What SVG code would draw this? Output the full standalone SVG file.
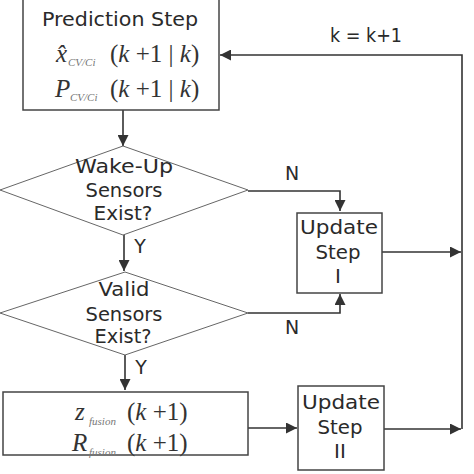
<svg xmlns="http://www.w3.org/2000/svg" width="474" height="474" viewBox="0 0 474 474">
<defs>
<marker id="ah" viewBox="0 0 10 10" refX="10" refY="5" markerWidth="11" markerHeight="11" markerUnits="userSpaceOnUse" orient="auto">
<path d="M0,0 L10,5 L0,10 Z" fill="#333"/>
</marker>
<style>
.box{fill:#fff;stroke:#444;stroke-width:1.5}
.dia{fill:#fff;stroke:#666;stroke-width:1}
.ln{fill:none;stroke:#333;stroke-width:1.6}
.t{font-family:"DejaVu Sans",sans-serif;fill:#2a2a2a;text-anchor:middle}
.m{font-family:"Liberation Serif",serif;fill:#333}
.mi{font-style:italic}
.sub{font-family:"Liberation Serif",serif;font-style:italic;fill:#777;font-size:11px}
</style>
</defs>
<rect width="474" height="474" fill="#fff"/>
<g id="connectors">
<line class="ln" x1="123" y1="110" x2="123" y2="146" marker-end="url(#ah)"/>
<line class="ln" x1="124" y1="235" x2="124" y2="271" marker-end="url(#ah)"/>
<line class="ln" x1="125" y1="355" x2="125" y2="390" marker-end="url(#ah)"/>
<polyline class="ln" points="248,191 340,191 340,211" marker-end="url(#ah)"/>
<polyline class="ln" points="248,313 340,313 340,294" marker-end="url(#ah)"/>
<line class="ln" x1="248" y1="428" x2="297" y2="428" marker-end="url(#ah)"/>
<line class="ln" x1="382" y1="252" x2="461" y2="252" marker-end="url(#ah)"/>
<line class="ln" x1="384" y1="429" x2="461" y2="429" marker-end="url(#ah)"/>
<polyline class="ln" points="462,429 462,55 220,55" marker-end="url(#ah)"/>
<text class="t" x="366" y="42" font-size="19" textLength="72" lengthAdjust="spacingAndGlyphs">k = k+1</text>
<text class="t" x="292" y="180" font-size="19">N</text>
<text class="t" x="292" y="334" font-size="19">N</text>
<text class="t" x="140" y="253" font-size="19">Y</text>
<text class="t" x="141" y="374" font-size="19">Y</text>
</g>
<g id="prediction">
<rect class="box" x="23" y="-2" width="196" height="112"/>
<text class="t" x="120" y="26" font-size="19" textLength="156" lengthAdjust="spacingAndGlyphs">Prediction Step</text>
<text class="m" y="62" font-size="25"><tspan class="mi" x="56">x̂</tspan><tspan class="sub" dy="4" x="68">CV/Ci</tspan><tspan dy="-4" x="110">(</tspan><tspan class="mi">k</tspan><tspan> +1 | </tspan><tspan class="mi">k</tspan><tspan>)</tspan></text>
<text class="m" y="97" font-size="25"><tspan class="mi" x="55">P</tspan><tspan class="sub" dy="4" x="70">CV/Ci</tspan><tspan dy="-4" x="110">(</tspan><tspan class="mi">k</tspan><tspan> +1 | </tspan><tspan class="mi">k</tspan><tspan>)</tspan></text>
</g>
<g id="wakeup">
<polygon class="dia" points="123,146 248,190 123,235 0,190"/>
<text class="t" x="124" y="173" font-size="20" textLength="98" lengthAdjust="spacingAndGlyphs">Wake-Up</text>
<text class="t" x="124" y="197" font-size="20" textLength="77" lengthAdjust="spacingAndGlyphs">Sensors</text>
<text class="t" x="123" y="220" font-size="20" textLength="59" lengthAdjust="spacingAndGlyphs">Exist?</text>
</g>
<g id="valid">
<polygon class="dia" points="125,272 248,313 125,355 0,313"/>
<text class="t" x="124" y="296" font-size="20" textLength="51" lengthAdjust="spacingAndGlyphs">Valid</text>
<text class="t" x="124" y="321" font-size="20" textLength="77" lengthAdjust="spacingAndGlyphs">Sensors</text>
<text class="t" x="123" y="343" font-size="20" textLength="57" lengthAdjust="spacingAndGlyphs">Exist?</text>
</g>
<g id="fusion">
<rect class="box" x="3" y="392" width="245" height="63"/>
<text class="m" y="420" font-size="25"><tspan class="mi" x="75">z</tspan><tspan class="sub" dy="5" x="89">fusion</tspan><tspan dy="-5" x="127">(</tspan><tspan class="mi">k</tspan><tspan> +1)</tspan></text>
<text class="m" y="451" font-size="25"><tspan class="mi" x="72">R</tspan><tspan class="sub" dy="5" x="89">fusion</tspan><tspan dy="-5" x="127">(</tspan><tspan class="mi">k</tspan><tspan> +1)</tspan></text>
</g>
<g id="update1">
<rect class="box" x="297" y="213" width="85" height="80"/>
<text class="t" x="339" y="234" font-size="20" textLength="78" lengthAdjust="spacingAndGlyphs">Update</text>
<text class="t" x="338" y="259" font-size="20" textLength="45" lengthAdjust="spacingAndGlyphs">Step</text>
<text class="t" x="338" y="283" font-size="20">I</text>
</g>
<g id="update2">
<rect class="box" x="298" y="386" width="86" height="84"/>
<text class="t" x="341" y="409" font-size="20" textLength="78" lengthAdjust="spacingAndGlyphs">Update</text>
<text class="t" x="340" y="434" font-size="20" textLength="45" lengthAdjust="spacingAndGlyphs">Step</text>
<text class="t" x="340" y="458" font-size="20">II</text>
</g>
</svg>
